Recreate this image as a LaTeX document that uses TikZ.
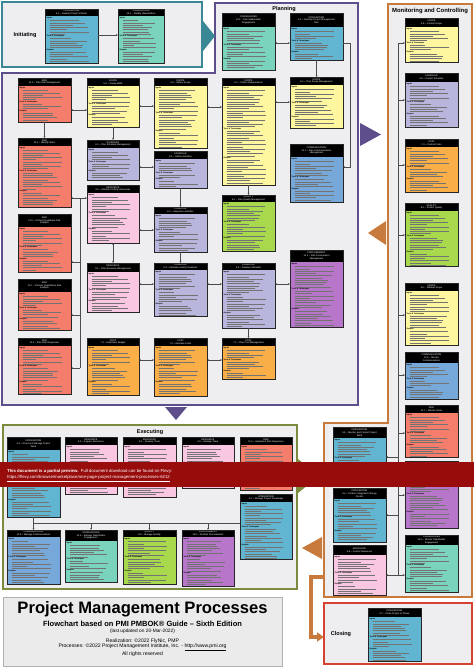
\documentclass[tikz,border=0pt]{standalone}
\usepackage{fontspec}
\setmainfont{Liberation Sans}
\usetikzlibrary{arrows.meta}
\definecolor{cInt}{RGB}{98,181,208}
\definecolor{cStk}{RGB}{122,211,188}
\definecolor{cScope}{RGB}{255,246,160}
\definecolor{cSch}{RGB}{184,182,220}
\definecolor{cRes}{RGB}{249,199,226}
\definecolor{cRisk}{RGB}{245,125,108}
\definecolor{cCost}{RGB}{249,174,72}
\definecolor{cQual}{RGB}{168,216,76}
\definecolor{cCom}{RGB}{118,168,218}
\definecolor{cProc}{RGB}{183,118,202}
\definecolor{gInit}{RGB}{58,136,150}
\definecolor{gPlan}{RGB}{94,78,140}
\definecolor{gMon}{RGB}{200,122,60}
\definecolor{gExe}{RGB}{124,140,62}
\definecolor{gClo}{RGB}{214,66,48}
\definecolor{grpfill}{RGB}{238,238,240}
\definecolor{bannerc}{RGB}{152,12,12}

\newcommand\pmbody[5]{%
  \pgfmathtruncatemacro\nR{(#5-#3-3)/2.25}%
  \pgfmathtruncatemacro\rA{round(\nR*0.42)}%
  \pgfmathtruncatemacro\rB{round(\nR*0.74)}%
  \foreach \r in {0,...,\nR}{%
    \pgfmathsetmacro\yy{#3+2.3+\r*2.25}%
    \ifnum\r=0 \node[sechd] (#1-in) at (#2+1.3,\yy) {Inputs};%
    \else\ifnum\r=\rA \node[sechd] (#1-tt) at (#2+1.3,\yy) {Tools \& Techniques};%
    \else\ifnum\r=\rB \node[sechd] (#1-out) at (#2+1.3,\yy) {Outputs};%
    \else
      \pgfmathsetmacro\ll{(#4-#2-9)*(0.3+0.6*abs(sin(\r*97+#2*13)))}%
      \draw[txtl] (#2+4.5,\yy) -- ++(\ll,0);%
    \fi\fi\fi
  }%
}
\newcommand\pmb[8]{%
  \pgfmathsetmacro\bw{#4-#2}%
  \pgfmathsetmacro\bh{#6-#3}%
  \fill[#7] (#2,#5) rectangle (#4,#6);%
  \pmbody{#1}{#2}{#5}{#4}{#6}%
  \fill[black] (#2,#3) rectangle (#4,#5);%
  \node[hdr, text width=\bw pt] (#1-h) at ({(#2+#4)/2},{(#3+#5)/2}) {#8};%
  \draw[boxl] (#2,#3) rectangle (#4,#6);%
  \node[inner sep=0pt, outer sep=0pt, minimum width=\bw pt, minimum height=\bh pt, anchor=north west] (#1) at (#2,#3) {};%
}

\begin{document}
\begin{tikzpicture}[x=1pt,y=-1pt,
  hdr/.style={font=\fontsize{2.3}{2.75}\selectfont, text=white, align=center, inner sep=0pt},
  sechd/.style={font=\bfseries\fontsize{1.9}{2}\selectfont, anchor=west, inner sep=0pt},
  txtl/.style={line width=0.36pt, draw=black!55},
  boxl/.style={draw=black!85, line width=0.6pt},
  grplabel/.style={font=\bfseries\fontsize{5.5}{6}\selectfont, inner sep=0pt},
  conn/.style={draw=black!70, line width=0.45pt},
  bi/.style={conn, <->},
  to/.style={conn, ->},
  >={Stealth[length=2pt,width=1.7pt]}
]
\useasboundingbox (0,0) rectangle (474,669);
\fill[white] (0,0) rectangle (474,669);

% ---------- groups ----------
\filldraw[draw=gInit, fill=grpfill, line width=1.6pt] (2,2) rectangle (202,67);
\filldraw[draw=gPlan, fill=grpfill, line width=1.5pt] (215,3) -- (358,3) -- (358,405) -- (2,405) -- (2,73) -- (215,73) -- cycle;
\filldraw[draw=gMon, fill=grpfill, line width=2pt] (388,4) -- (472,4) -- (472,597) -- (324,597) -- (324,423) -- (388,423) -- cycle;
\filldraw[draw=gExe, fill=grpfill, line width=1.5pt] (3,425) rectangle (297,589);
\filldraw[draw=gClo, fill=grpfill, line width=1.8pt] (324,603) rectangle (472,664);

% ---------- phase arrows ----------
\fill[gInit] (203,21) -- (215,36) -- (203,51) -- cycle;
\fill[gPlan] (360,123) -- (381,134.5) -- (360,146) -- cycle;
\fill[gPlan] (165,407) -- (187,407) -- (176,420) -- cycle;
\fill[gMon] (386,221) -- (368,233) -- (386,245) -- cycle;
\fill[gMon] (322,537) -- (302,548) -- (322,559) -- cycle;
\fill[gExe] (298,459) -- (319,476) -- (298,493) -- cycle;
\coordinate (oa1) at (324,577);
\coordinate (oa2) at (311,577);
\coordinate (oa3) at (311,637);
\coordinate (oa4) at (324,637);
\draw[gMon, line width=3.5pt, -{Triangle[length=7pt,width=9pt]}] (oa1) -- (oa2) -- (oa3) -- (oa4);

% ---------- group labels ----------
\node[grplabel] (lInit) at (25,35) {Initiating};
\node[grplabel] (lPlan) at (284,9) {Planning};
\node[grplabel, font=\bfseries\fontsize{5.9}{6.5}\selectfont] (lMon) at (430,11) {Monitoring and Controlling};
\node[grplabel] (lExe) at (150,432) {Executing};
\node[grplabel] (lClo) at (341,634) {Closing};

% ---------- Initiating ----------
\pmb{i41}{45}{9}{98}{16}{63}{cInt}{INTEGRATION\\4.1 – Develop Project Charter}
\pmb{i131}{118}{9}{164}{16}{63}{cStk}{STAKEHOLDER\\13.1 – Identify Stakeholders}

% ---------- Planning ----------
\pmb{p132}{222}{13}{275}{27}{70}{cStk}{STAKEHOLDER\\13.2 – Plan Stakeholder\\Engagement}
\pmb{p42}{290}{13}{343}{27}{60}{cInt}{INTEGRATION\\4.2 – Develop Project Management\\Plan}
\pmb{p111}{18}{78}{71}{86}{122}{cRisk}{RISK\\11.1 – Plan Risk Management}
\pmb{p112}{18}{138}{71}{146}{207}{cRisk}{RISK\\11.2 – Identify Risks}
\pmb{p113}{18}{214}{71}{227}{272}{cRisk}{RISK\\11.3 – Perform Qualitative Risk\\Analysis}
\pmb{p114}{18}{279}{71}{292}{330}{cRisk}{RISK\\11.4 – Perform Quantitative Risk\\Analysis}
\pmb{p115}{18}{338}{71}{346}{394}{cRisk}{RISK\\11.5 – Plan Risk Responses}
\pmb{p54}{87}{78}{139}{86}{127}{cScope}{SCOPE\\5.4 – Create WBS}
\pmb{p61}{87}{140}{139}{148}{180}{cSch}{SCHEDULE\\6.1 – Plan Schedule Management}
\pmb{p92}{87}{185}{139}{193}{243}{cRes}{RESOURCE\\9.2 – Estimate Activity Resources}
\pmb{p91}{87}{263}{139}{272}{312}{cRes}{RESOURCE\\9.1 – Plan Resource Management}
\pmb{p73}{87}{338}{139}{346}{395}{cCost}{COST\\7.3 – Determine Budget}
\pmb{p53}{154}{78}{207}{86}{148}{cScope}{SCOPE\\5.3 – Define Scope}
\pmb{p62}{154}{151}{207}{159}{188}{cSch}{SCHEDULE\\6.2 – Define Activities}
\pmb{p63}{154}{207}{207}{214}{252}{cSch}{SCHEDULE\\6.3 – Sequence Activities}
\pmb{p64}{154}{263}{207}{270}{316}{cSch}{SCHEDULE\\6.4 – Estimate Activity Durations}
\pmb{p72}{154}{338}{207}{346}{396}{cCost}{COST\\7.2 – Estimate Costs}
\pmb{p52}{222}{78}{275}{86}{185}{cScope}{SCOPE\\5.2 – Collect Requirements}
\pmb{p81}{222}{195}{275}{202}{251}{cQual}{QUALITY\\8.1 – Plan Quality Management}
\pmb{p65}{222}{263}{275}{270}{328}{cSch}{SCHEDULE\\6.5 – Develop Schedule}
\pmb{p71}{222}{338}{275}{346}{379}{cCost}{COST\\7.1 – Plan Cost Management}
\pmb{p51}{290}{77}{343}{85}{128}{cScope}{SCOPE\\5.1 – Plan Scope Management}
\pmb{p101}{290}{144}{343}{157}{202}{cCom}{COMMUNICATION\\10.1 – Plan Communications\\Management}
\pmb{p121}{290}{250}{343}{262}{327}{cProc}{PROCUREMENT\\12.1 – Plan Procurement\\Management}

% ---------- Monitoring and Controlling ----------
\pmb{m56}{405}{18}{458}{27}{62}{cScope}{SCOPE\\5.6 – Control Scope}
\pmb{m66}{405}{73}{458}{82}{127}{cSch}{SCHEDULE\\6.6 – Control Schedule}
\pmb{m74}{405}{139}{458}{147}{192}{cCost}{COST\\7.4 – Control Costs}
\pmb{m83}{405}{203}{458}{211}{266}{cQual}{QUALITY\\8.3 – Control Quality}
\pmb{m55}{405}{283}{458}{291}{345}{cScope}{SCOPE\\5.5 – Validate Scope}
\pmb{m103}{405}{352}{458}{363}{399}{cCom}{COMMUNICATION\\10.3 – Monitor\\Communications}
\pmb{m117}{405}{405}{458}{413}{457}{cRisk}{RISK\\11.7 – Monitor Risks}
\pmb{m123}{405}{461}{458}{469}{528}{cProc}{PROCUREMENT\\12.3 – Control Procurements}
\pmb{m134}{405}{535}{458}{545}{592}{cStk}{STAKEHOLDER\\13.4 – Monitor Stakeholder\\Engagement}
\pmb{m45}{333}{427}{386}{438}{483}{cInt}{INTEGRATION\\4.5 – Monitor and Control Project\\Work}
\pmb{m46}{333}{488}{386}{499}{542}{cInt}{INTEGRATION\\4.6 – Perform Integrated Change\\Control}
\pmb{m96}{333}{545}{386}{555}{595}{cRes}{RESOURCE\\9.6 – Control Resources}

% ---------- Executing ----------
\pmb{e43}{7}{437}{60}{450}{517}{cInt}{INTEGRATION\\4.3 – Direct and Manage Project\\Work}
\pmb{e93}{65}{437}{117}{445}{494}{cRes}{RESOURCE\\9.3 – Acquire Resources}
\pmb{e94}{123}{437}{176}{445}{497}{cRes}{RESOURCE\\9.4 – Develop Team}
\pmb{e95}{182}{437}{234}{445}{488}{cRes}{RESOURCE\\9.5 – Manage Team}
\pmb{e116}{240}{437}{292}{445}{490}{cRisk}{RISK\\11.6 – Implement Risk Responses}
\pmb{e44}{240}{494}{292}{502}{559}{cInt}{INTEGRATION\\4.4 – Manage Project Knowledge}
\pmb{e102}{7}{530}{60}{537}{584}{cCom}{COMMUNICATION\\10.2 – Manage Communications}
\pmb{e133}{65}{530}{117}{541}{582}{cStk}{STAKEHOLDER\\13.3 – Manage Stakeholder\\Engagement}
\pmb{e82}{123}{530}{176}{537}{584}{cQual}{QUALITY\\8.2 – Manage Quality}
\pmb{e122}{182}{530}{234}{537}{586}{cProc}{PROCUREMENT\\12.2 – Conduct Procurements}

% ---------- Closing ----------
\pmb{c47}{368}{608}{421}{617}{661}{cInt}{INTEGRATION\\4.7 – Close Project or Phase}

% ---------- connectors ----------
\draw[to] (i41.east |- 0,35) -- (i131.west |- 0,35);

\draw[bi] (p132.east |- 0,43) -- (p42.west |- 0,43);
\draw[to] (p42.south) -- (p51.north);
\coordinate (k1) at (350,43);
\draw[conn] (p42.east |- 0,43) -- (k1);
\draw[to] (k1) |- (p101.east |- 0,167);
\draw[bi] (p52.east |- 0,102) -- (p51.west |- 0,102);
\draw[bi] (p53.east |- 0,107) -- (p52.west |- 0,107);
\draw[bi] (p54.east |- 0,106) -- (p53.west |- 0,106);
\draw[bi] (p111.east |- 0,110) -- (p54.west |- 0,110);
\draw[to] (p111.south) -- (p112.north);
\draw[to] (p54.south) -- (p61.north);
\draw[bi] (p61.east |- 0,167) -- (p62.west |- 0,167);
\draw[to] (p62.south) -- (p63.north);
\draw[bi] (p92.east |- 0,230) -- (p63.west |- 0,230);
\draw[bi] (p92.south) -- (p91.north);
\draw[to] (p63.south) -- (p64.north);
\draw[bi] (p91.east |- 0,284) -- (p64.west |- 0,284);
\draw[bi] (p64.east |- 0,284) -- (p65.west |- 0,284);
\draw[bi] (p65.east |- 0,284) -- (p121.west |- 0,284);
\draw[to] (p65.south) -- (p71.north);
\draw[bi] (p72.east |- 0,360) -- (p71.west |- 0,360);
\draw[bi] (p73.east |- 0,360) -- (p72.west |- 0,360);
\draw[to] (p52.south) -- (p81.north);
\draw[bi] (p112.east |- 0,198) -- (p92.west |- 0,198);
\coordinate (rs1) at (80,198);
\coordinate (rs2) at (80,368);
\draw[conn] (rs1) -- (rs2);
\draw[to] (rs1 |- 0,262) -- (p113.east |- 0,262);
\draw[to] (rs1 |- 0,315) -- (p114.east |- 0,315);
\draw[to] (rs1 |- 0,368) -- (p115.east |- 0,368);

\coordinate (ms1) at (398,43);
\coordinate (ms2) at (398,575);
\draw[conn] (ms1) -- (ms2);
\foreach \n/\q in {m56/43, m66/100, m74/165, m83/235, m55/315, m103/375, m117/433, m123/495, m134/575}
  \draw[to] (ms1 |- 0,\q) -- (\n.west |- 0,\q);
\foreach \n/\q in {m45/457, m46/515, m96/575}
  \draw[to] (ms1 |- 0,\q) -- (\n.east |- 0,\q);

\draw[to] (e43.south) -- (e102.north);
\draw[conn] (e43.south |- 0,523) -- (e44.west |- 0,523);
\foreach \n in {e133, e82, e122}
  \draw[to] (\n.north |- 0,523) -- (\n.north);

% ---------- preview banner ----------
\fill[bannerc] (0,462) rectangle (474,487);
\node[anchor=west, inner sep=0pt, text=white, font=\fontsize{4.3}{5}\selectfont] (bn1) at (7,471)
  {\textbf{This document is a partial preview.}\ \ Full document download can be found on Flevy:};
\node[anchor=west, inner sep=0pt, text=white, font=\fontsize{4.3}{5}\selectfont] (bn2) at (7,478.5)
  {\underline{https://flevy.com/browse/marketplace/one-page-project-management-processes-6212}};

% ---------- title block ----------
\filldraw[draw=black!30, fill=black!8, line width=0.6pt] (3,597) rectangle (282,666);
\node[inner sep=0pt, font=\bfseries\fontsize{16.6}{17}\selectfont] (tt1) at (142.5,609) {Project Management Processes};
\node[inner sep=0pt, font=\bfseries\fontsize{7.5}{8}\selectfont] (tt2) at (142.5,624) {Flowchart based on PMI PMBOK® Guide – Sixth Edition};
\node[inner sep=0pt, font=\fontsize{4.8}{5}\selectfont] (tt3) at (142.5,631.5) {(last updated on 20-Mar-2022)};
\node[inner sep=0pt, align=center, font=\fontsize{5.1}{4.9}\selectfont] (tt4) at (142.5,647.5)
  {Realization: ©2022 FlyNic, PMP\\Processes: ©2022 Project Management Institute, Inc. - \underline{http://www.pmi.org}\\All rights reserved};
\end{tikzpicture}
\end{document}
